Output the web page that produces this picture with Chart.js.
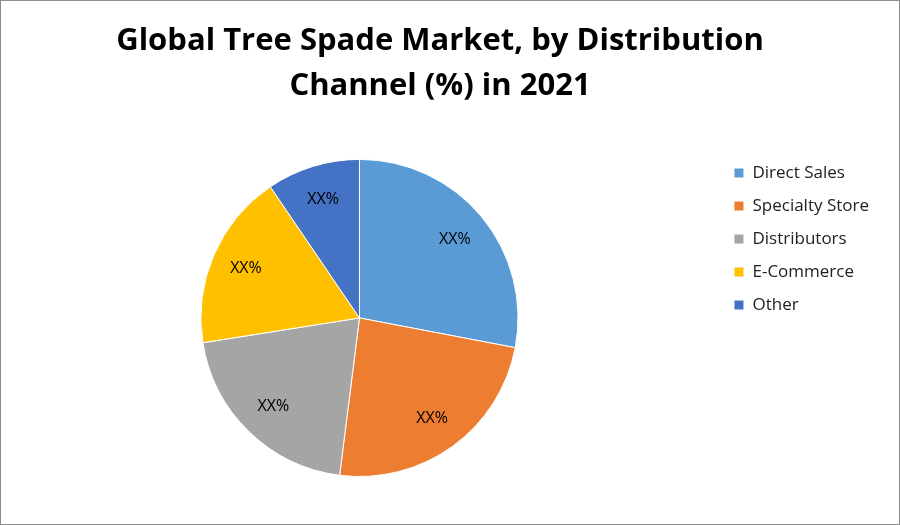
<!DOCTYPE html>
<html>
<head>
<meta charset="utf-8">
<script src="https://cdn.jsdelivr.net/npm/chart.js@4"></script>
<style>
  body { margin: 0; background: #fff; }
  #wrap { width: 898px; height: 523px; border: 1px solid #8c8c8c; }
</style>
</head>
<body>
<div id="wrap"><canvas id="pieChart" width="898" height="523"></canvas></div>
<script>
var channels = ["Direct Sales", "Specialty Store", "Distributors", "E-Commerce", "Other"];
var shares = [28, 24, 20.5, 18, 9.5];
var shareLabels = ["XX%", "XX%", "XX%", "XX%", "XX%"];
var colors = ["#5b9bd5", "#ed7d31", "#a5a5a5", "#ffc000", "#4472c4"];

var sliceLabels = {
  id: "sliceLabels",
  afterDatasetsDraw: function (chart) {
    var ctx = chart.ctx;
    ctx.save();
    ctx.font = "16px 'Open Sans', sans-serif";
    ctx.fillStyle = "#000";
    ctx.textAlign = "center";
    ctx.textBaseline = "middle";
    chart.getDatasetMeta(0).data.forEach(function (arc, i) {
      var mid = (arc.startAngle + arc.endAngle) / 2;
      var r = arc.outerRadius * 0.78;
      ctx.fillText(shareLabels[i], arc.x + Math.cos(mid) * r, arc.y + Math.sin(mid) * r);
    });
    ctx.restore();
  }
};

var ctx = document.getElementById("pieChart").getContext("2d");
var myChart = new Chart(ctx, {
  type: "pie",
  data: {
    labels: channels,
    datasets: [
      {
        data: shares,
        backgroundColor: colors,
        borderColor: "#ffffff",
        borderWidth: 1,
      },
    ],
  },
  options: {
    responsive: false,
    animation: false,
    layout: { padding: { bottom: 47, left: 0, right: 20 } },
    plugins: {
      title: {
        display: true,
        text: ["Global Tree Spade Market, by Distribution", "Channel (%) in 2021"],
        color: "#000",
        font: { family: "'Open Sans', sans-serif", size: 31, weight: "bold", lineHeight: 1.45 },
        padding: { top: 18, bottom: 50 },
      },
      legend: {
        position: "right",
        labels: {
          boxWidth: 10,
          boxHeight: 10,
          padding: 16,
          color: "#222",
          font: { family: "'Open Sans', sans-serif", size: 17 },
        },
      },
      tooltip: { enabled: false },
    },
  },
  plugins: [sliceLabels],
});
</script>
</body>
</html>
